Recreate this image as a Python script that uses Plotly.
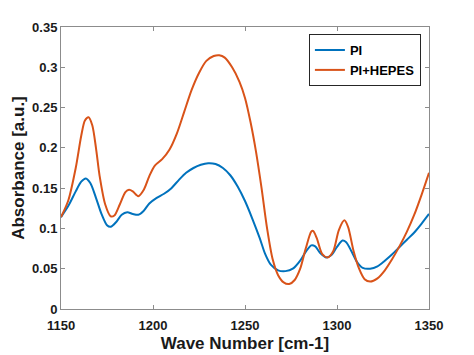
import plotly.graph_objects as go

x_hepes = [1150, 1154, 1158, 1161, 1163, 1165, 1167, 1169, 1171, 1174, 1177, 1179, 1182, 1185, 1187, 1189,
           1192, 1195, 1198, 1201, 1205, 1209, 1213, 1217, 1221, 1225, 1229, 1233, 1236, 1239, 1243, 1247,
           1250, 1253, 1256, 1259, 1262, 1265, 1268, 1271, 1274, 1277, 1280, 1283, 1286, 1287, 1289, 1292,
           1295, 1298, 1301, 1304, 1306, 1309, 1312, 1315, 1318, 1322, 1326, 1330, 1334, 1338, 1342, 1346, 1350]
y_hepes = [0.114, 0.135, 0.175, 0.215, 0.234, 0.238, 0.228, 0.200, 0.165, 0.130, 0.115, 0.116, 0.130, 0.145,
           0.148, 0.146, 0.140, 0.148, 0.165, 0.178, 0.186, 0.198, 0.218, 0.245, 0.272, 0.293, 0.308, 0.314,
           0.315, 0.312, 0.300, 0.282, 0.262, 0.232, 0.195, 0.150, 0.100, 0.062, 0.042, 0.033, 0.031, 0.036,
           0.050, 0.075, 0.096, 0.097, 0.088, 0.068, 0.064, 0.072, 0.098, 0.110, 0.102, 0.072, 0.050, 0.037,
           0.034, 0.038, 0.048, 0.062, 0.078, 0.096, 0.117, 0.142, 0.169]

x_pi = [1150, 1154, 1158, 1161, 1163.5, 1166, 1169, 1172, 1175, 1177, 1180, 1183, 1186, 1189, 1192, 1195,
        1198, 1202, 1206, 1210, 1214, 1218, 1222, 1226, 1230, 1234, 1238, 1242, 1246, 1250, 1254, 1258,
        1261, 1264, 1268, 1272, 1276, 1280, 1283, 1286, 1288, 1291, 1294, 1297, 1300, 1303, 1305, 1308,
        1311, 1314, 1318, 1322, 1326, 1330, 1334, 1338, 1342, 1346, 1350]
y_pi = [0.114, 0.128, 0.146, 0.158, 0.162, 0.156, 0.138, 0.118, 0.104, 0.102, 0.108, 0.117, 0.120, 0.118,
        0.117, 0.122, 0.131, 0.138, 0.143, 0.150, 0.160, 0.169, 0.175, 0.179, 0.181, 0.180, 0.175, 0.166,
        0.152, 0.134, 0.112, 0.088, 0.068, 0.055, 0.048, 0.047, 0.050, 0.060, 0.071, 0.079, 0.078, 0.069,
        0.064, 0.067, 0.077, 0.085, 0.083, 0.071, 0.058, 0.051, 0.050, 0.053, 0.060, 0.068, 0.077, 0.086,
        0.095, 0.106, 0.118]

x_ticks = [1150, 1200, 1250, 1300, 1350]
y_ticks = [0, 0.05, 0.1, 0.15, 0.2, 0.25, 0.3, 0.35]
y_tick_labels = ["0", "0.05", "0.1", "0.15", "0.2", "0.25", "0.3", "0.35"]

FONT = "Liberation Sans, Arial, sans-serif"

fig = go.Figure()
fig.add_trace(go.Scatter(x=x_pi, y=y_pi, mode="lines", name="<b>PI</b>",
                         line=dict(color="#0072BD", width=2, shape="spline", smoothing=0.8)))
fig.add_trace(go.Scatter(x=x_hepes, y=y_hepes, mode="lines", name="<b>PI+HEPES</b>",
                         line=dict(color="#D95319", width=2, shape="spline", smoothing=0.8)))

axis_common = dict(showline=True, linecolor="#8c8c8c", linewidth=1, mirror="ticks",
                   ticks="inside", ticklen=4, tickcolor="#8c8c8c", showgrid=False, zeroline=False,
                   tickfont=dict(family=FONT, size=13, color="#1a1a1a"), automargin=False)

fig.update_xaxes(range=[1150, 1350], tickvals=x_ticks, ticktext=["<b>%d</b>" % t for t in x_ticks],
                 ticklabelstandoff=4,
                 title=dict(text="<b>Wave Number [cm-1]</b>", font=dict(family=FONT, size=17, color="#1a1a1a"),
                            standoff=5),
                 **axis_common)
fig.update_yaxes(range=[0, 0.35], tickvals=y_ticks, ticktext=["<b>%s</b>" % t for t in y_tick_labels],
                 title=dict(text="<b>Absorbance [a.u.]</b>", font=dict(family=FONT, size=17, color="#1a1a1a"),
                            standoff=3),
                 **axis_common)

# page body has an 8px default margin, so the figure is sized to fit the 474x355 window
fig.update_layout(
    width=466, height=347,
    margin=dict(l=53, r=45, t=19, b=46),
    plot_bgcolor="white", paper_bgcolor="white",
    font=dict(family=FONT, color="#1a1a1a"),
    legend=dict(x=0.978, y=0.975, xanchor="right", yanchor="top",
                bordercolor="#262626", borderwidth=1, bgcolor="white",
                font=dict(family=FONT, size=13, color="#000000"),
                tracegroupgap=0, itemwidth=30),
)

fig.write_html("out.html")
